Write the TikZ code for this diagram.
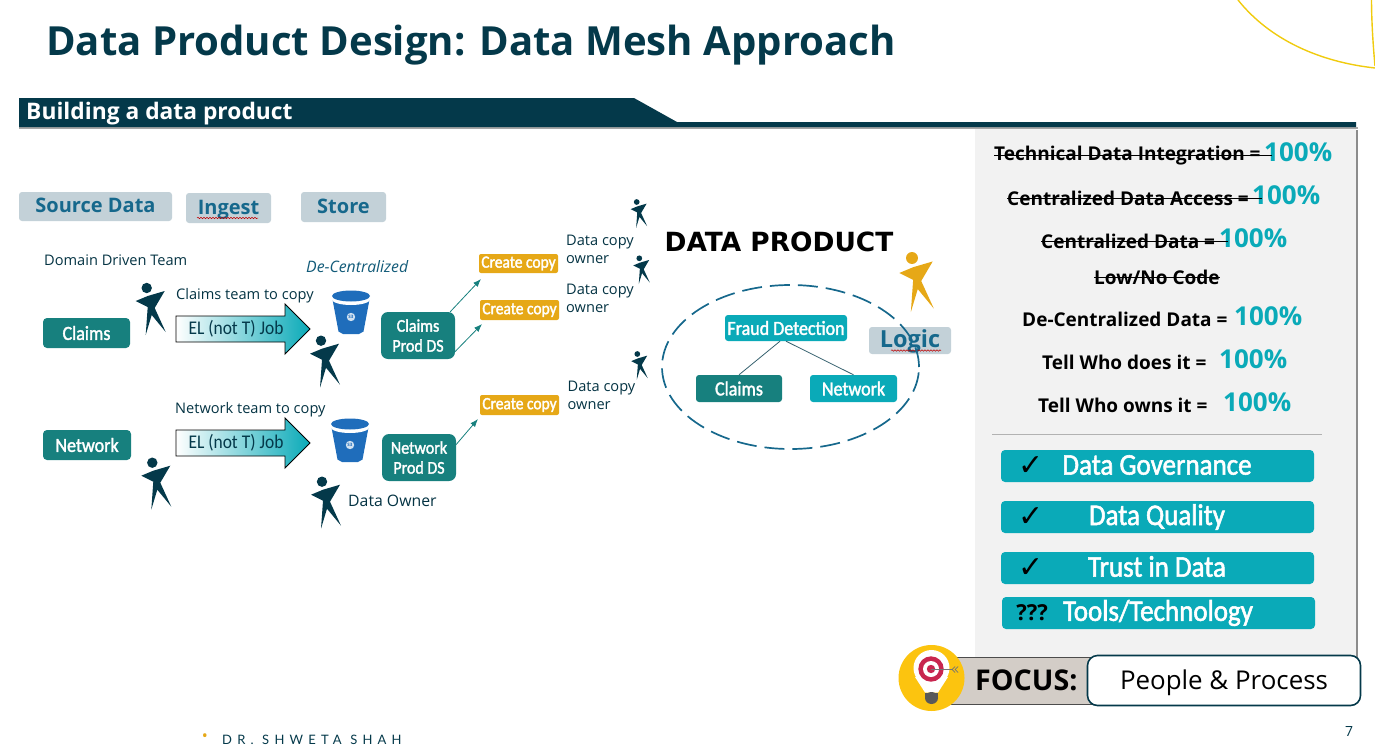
\documentclass[tikz,border=0pt]{standalone}
\usepackage{fontspec}
\usetikzlibrary{shapes.geometric,arrows.meta,decorations.pathmorphing}
\setmainfont{Open Sans}
\newfontfamily\narrowfont[FakeStretch=.9,BoldFont=Carlito,BoldFeatures={FakeBold=1.8}]{Carlito}
\newfontfamily\wideboldfont{DejaVu Sans}
\newfontfamily\footfont[LetterSpace=40]{Lato}
\definecolor{deepteal}{HTML}{04394A}
\definecolor{boxteal}{HTML}{17807E}
\definecolor{brightteal}{HTML}{0AAAB8}
\definecolor{stagegrey}{HTML}{C3D1D8}
\definecolor{stageblue}{HTML}{16688C}
\definecolor{copygold}{HTML}{E6A817}
\definecolor{bucketblue}{HTML}{1F6DBB}
\definecolor{panelgrey}{HTML}{F2F2F2}
\definecolor{focusyellow}{HTML}{FCC40F}
\definecolor{targetred}{HTML}{C8264F}
\newcommand{\px}[2][1.2]{\fontsize{#2}{#1\dimexpr #2pt\relax}\selectfont}
\tikzset{
	stagebox/.style={fill=stagegrey,rounded corners=3,text=stageblue,inner sep=0,text height=16,text depth=4,font=\bfseries\px{20}},
	sourcebox/.style={fill=boxteal,rounded corners=4,text=white,inner sep=0,font=\narrowfont\bfseries\px{20},align=center},
	dsbox/.style={fill=boxteal,rounded corners=7,text=white,inner sep=0,font=\narrowfont\bfseries\px[1.12]{17.8},align=center},
	copybox/.style={fill=copygold,rounded corners=2,text=white,inner sep=0,font=\narrowfont\bfseries\px{17.2}},
	productbox/.style={fill=brightteal,rounded corners=3,text=white,inner sep=0,font=\narrowfont\bfseries\px{20}},
	checkbox/.style={fill=brightteal,rounded corners=4},
	checktext/.style={text=white,inner sep=0,font=\narrowfont\bfseries\px{30}},
	ticktext/.style={inner sep=0,font=\wideboldfont\px{30}},
	smalltext/.style={text=deepteal!90!black,font=\px{14.6},inner sep=0,align=left},
	ruletext/.style={text=black,font=\bfseries\px{19},inner sep=0},
	percent/.style={text=brightteal,font=\bfseries\px{26},inner sep=0},
	squiggle/.style={draw=red!75!black,line width=.5,decorate,decoration={snake,amplitude=.7,segment length=3}},
	flowline/.style={draw=boxteal,line width=.8,-{Latex[length=8,width=6]}},
	person/.pic={
		\fill (0,0) circle (5.2);
		\fill (-11,13) -- (1,8) -- (18,3) -- (8,20) -- (19,44) -- (5,27) -- (-1,47) -- (1,19) -- cycle;
	},
	jobarrow/.pic={
		\shade[draw=black,line width=.9,left color=white,middle color=brightteal!85,right color=brightteal] (0,-13) -- (109,-13) -- (109,-25) -- (134,0) -- (109,25) -- (109,13) -- (0,13) -- cycle;
	},
	bucket/.pic={
		\fill[bucketblue] (-18.5,-10) -- (-12.5,22) -- (-8,24.5) -- (8,24.5) -- (12.5,22) -- (18.5,-10) -- cycle;
		\fill[white] (0,-10.5) ellipse (19.5 and 6);
		\fill[bucketblue] (0,-13.5) ellipse (19 and 5.5);
		\fill[white!80!bucketblue] (0,7.5) circle (4.2);
		\node[text=bucketblue,font=\bfseries\px{4.5},inner sep=0] at (0,7.5) {S3};
	},
}
\begin{document}
\begin{tikzpicture}[x=1pt,y=-1pt]
	\useasboundingbox (0,0) rectangle (1375,752);
	% heading
	\draw[copygold!60!yellow,line width=1.4] (1238,0) .. controls (1270,40) and (1320,62) .. (1375,68);
	\draw[copygold!60!yellow,line width=1.4] (1371.5,0) .. controls (1371.5,20) and (1373,45) .. (1375,66);
	\fill[panelgrey] (975,127) rectangle (1356,660);
	\fill[black!45] (1356,130) rectangle (1358,660);
	\fill[black!35] (19,127) rectangle (1358,129);
	\fill[deepteal] (19,98) -- (634,98) -- (677,122) -- (1356,122) -- (1356,127) -- (19,127) -- cycle;
	\node[anchor=base west,inner sep=0,text=deepteal,font=\bfseries\px{40.1}] (title) at (46,55.5) {Data Product Design: Data Mesh Approach};
	\node[anchor=base west,inner sep=0,text=white,font=\bfseries\px{22.8}] (subtitle) at (26,119) {Building a data product};
	% stages
	\node[stagebox,minimum width=153,minimum height=29] (source) at (95.5,206.5) {Source Data};
	\node[stagebox,minimum width=85,minimum height=30] (ingest) at (228.5,208) {Ingest};
	\node[stagebox,minimum width=85,minimum height=30] (store) at (343.5,207) {Store};
	\draw[squiggle] (197,218) -- (258,218);
	\node[smalltext,anchor=west] (domain) at (44,260.5) {Domain Driven Team};
	\node[smalltext,anchor=west,text=stageblue!70!deepteal,font=\itshape\px{15.8}] (decentral) at (306,266.5) {De-Centralized};
	% claims row
	\node[sourcebox,minimum width=87,minimum height=30] (claims) at (86.5,333) {Claims};
	\pic[fill=deepteal] at (146.7,288) {person};
	\node[smalltext,anchor=west] (claimsteam) at (176,296) {Claims team to copy};
	\pic at (176,329) {jobarrow};
	\node[text=deepteal,font=\narrowfont\px{19.4},inner sep=0] (claimsjob) at (236,328.5) {EL (not T) Job};
	\pic at (351,309.5) {bucket};
	\pic[fill=deepteal] at (321,340.7) {person};
	\node[dsbox,minimum width=74,minimum height=47] (claimsds) at (418,335.5) {Claims\\Prod DS};
	% network row
	\node[sourcebox,minimum width=88,minimum height=30] (network) at (87,445) {Network};
	\pic[fill=deepteal] at (152.3,462.7) {person};
	\node[smalltext,anchor=west] (networkteam) at (175,410) {Network team to copy};
	\pic at (176,443) {jobarrow};
	\node[text=deepteal,font=\narrowfont\px{19.4},inner sep=0] (networkjob) at (236,442.5) {EL (not T) Job};
	\pic at (350,437.5) {bucket};
	\pic[fill=deepteal] at (322,481.7) {person};
	\node[dsbox,minimum width=74,minimum height=47] (networkds) at (419,457.5) {Network\\Prod DS};
	\node[smalltext,anchor=west,font=\px{15.8}] (owner) at (348,501) {Data Owner};
	% copies
	\node[copybox,minimum width=79,minimum height=19] (copyone) at (518.5,263.5) {Create copy};
	\node[copybox,minimum width=79,minimum height=20] (copytwo) at (519.5,310) {Create copy};
	\node[copybox,minimum width=79,minimum height=20] (copythree) at (519.5,405) {Create copy};
	\coordinate (copyonein) at (481,279);
	\coordinate (copytwoin) at (482,324);
	\coordinate (copythreein) at (478,419);
	\draw[flowline] (claimsds.north east) ++(-5,0) -- (copyonein);
	\draw[flowline] (claimsds.east) ++(0,16) -- (copytwoin);
	\draw[flowline] (networkds.east) ++(0,-13) -- (copythreein);
	\node[smalltext,anchor=west] (ownerone) at (566,249.5) {Data copy\\owner};
	\node[smalltext,anchor=west] (ownertwo) at (566,298.5) {Data copy\\owner};
	\node[smalltext,anchor=west] (ownerthree) at (567.5,395.5) {Data copy\\owner};
	\pic[fill=deepteal,scale=.55] at (636.7,202) {person};
	\pic[fill=deepteal,scale=.55] at (639.3,258.3) {person};
	\pic[fill=deepteal,scale=.55] at (637.3,354) {person};
	% data product
	\node[inner sep=0,font=\wideboldfont\bfseries\px{26.4}] (product) at (779,242) {DATA PRODUCT};
	\node[stagebox,minimum width=82,minimum height=27,text height=19,text depth=5,font=\bfseries\px{23.5}] (logic) at (910,340.5) {Logic};
	\draw[squiggle] (891,350.5) -- (941,350.5);
	\node[draw=stageblue,line width=1.7,dash pattern=on 20 off 8,ellipse,minimum width=257,minimum height=164,inner sep=0] (productring) at (790.5,367) {};
	\pic[fill=copygold,scale=1.15] at (912,258) {person};
	\node[productbox,minimum width=122,minimum height=26] (fraud) at (786,328) {Fraud Detection};
	\node[productbox,fill=boxteal,minimum width=86,minimum height=27] (claimsout) at (739,388.5) {Claims};
	\node[productbox,minimum width=87,minimum height=27] (networkout) at (853.5,388.5) {Network};
	\draw[deepteal!80,line width=.8] ([xshift=-6]fraud.south) -- (claimsout.north);
	\draw[deepteal!80,line width=.8] (fraud.south) -- (networkout.north);
	% struck out rows
	\node[ruletext,anchor=west] (ruleone) at (994,155.5) {Technical Data Integration =};
	\node[percent,anchor=west] (pctone) at (1264,152) {100\%};
	\draw[black,line width=1] (ruleone.west) -- (1272,155.5);
	\node[ruletext,anchor=west] (ruletwo) at (1007,198.5) {Centralized Data Access =};
	\node[percent,anchor=west] (pcttwo) at (1252,195) {100\%};
	\draw[black,line width=1] (ruletwo.west) -- (1262,198.5);
	\node[ruletext,anchor=west] (rulethree) at (1041,241.5) {Centralized Data =};
	\node[percent,anchor=west] (pctthree) at (1219,238) {100\%};
	\draw[black,line width=1] (rulethree.west) -- (1228,241.5);
	\node[ruletext,anchor=west] (rulefour) at (1094,277) {Low/No Code};
	\draw[black,line width=1] (rulefour.west) -- (rulefour.east);
	% kept rows
	\node[ruletext,anchor=west] (rulefive) at (1022,319) {De-Centralized Data =};
	\node[percent,anchor=west] (pctfive) at (1234,316) {100\%};
	\node[ruletext,anchor=west] (rulesix) at (1042,362) {Tell Who does it =};
	\node[percent,anchor=west] (pctsix) at (1219,359) {100\%};
	\node[ruletext,anchor=west] (ruleseven) at (1038,405) {Tell Who owns it =};
	\node[percent,anchor=west] (pctseven) at (1223,402) {100\%};
	\draw[black!30,line width=.7] (992,434) -- (1322,434);
	% check list
	\node[checkbox,minimum width=313,minimum height=32] (governance) at (1157.5,466) {};
	\node[checkbox,minimum width=313,minimum height=32] (quality) at (1157.5,517) {};
	\node[checkbox,minimum width=313,minimum height=32] (trust) at (1157.5,568) {};
	\node[checkbox,minimum width=313,minimum height=32] (tools) at (1158.5,613) {};
	\node[checktext] (governancetext) at (1157,465) {Data Governance};
	\node[checktext] (qualitytext) at (1157,517) {Data Quality};
	\node[checktext] (trusttext) at (1157,566.5) {Trust in Data};
	\node[checktext] (toolstext) at (1158,613) {Tools/Technology};
	\node[ticktext] (tickone) at (1031,466) {✓};
	\node[ticktext] (ticktwo) at (1031,517) {✓};
	\node[ticktext] (tickthree) at (1031,568) {✓};
	\node[inner sep=0,font=\bfseries\px{22}] (marks) at (1032,613) {???};
	% focus
	\fill[black!18!white!95!orange,draw=black!70,line width=.8] (940,657.5) rectangle (1095,704);
	\fill[focusyellow] (931.5,678) circle (33);
	\fill[white] (931.5,668) circle (18);
	\fill[white] (915,677) -- (925,692.5) -- (938,692.5) -- (948,677) -- cycle;
	\fill[black!65] (925,692.5) rectangle (938,698);
	\fill[black!65] (931.5,698) ellipse (6.5 and 6);
	\fill[targetred] (931,669) circle (12.7);
	\fill[white] (931,669) circle (8);
	\fill[targetred] (931,669) circle (4.2);
	\draw[black!55,line width=.9] (931,669.5) -- (953,669.5);
	\draw[black!55,line width=.7] (955,666.5) -- (952,669.5) -- (955,672.5) (958,666.5) -- (955,669.5) -- (958,672.5);
	\node[anchor=west,inner sep=0,font=\bfseries\px{28.6}] (focus) at (975,680) {FOCUS:};
	\node[draw=deepteal,line width=1.6,fill=white,rounded corners=10,minimum width=273,minimum height=50,font=\px{25.9},text height=23,text depth=6] (people) at (1224,680.5) {People \& Process};
	% footer
	\node[inner sep=0,text=copygold,font=\px{16}] (bullet) at (205,738) {•};
	\node[anchor=west,inner sep=0,text=deepteal,font=\footfont\px{13}] (speaker) at (222,739.5) {DR. SHWETA SHAH};
	\node[inner sep=0,text=deepteal,font=\px{14}] (pageno) at (1349,731) {7};
\end{tikzpicture}
\end{document}
